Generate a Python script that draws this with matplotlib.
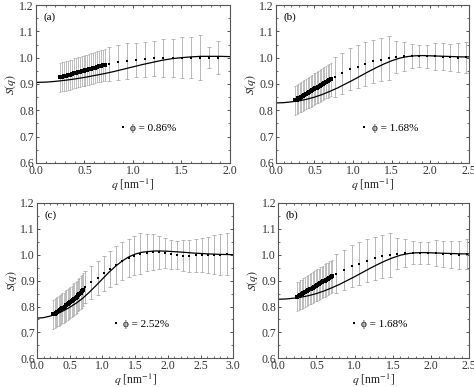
import numpy as np
import matplotlib
matplotlib.use("Agg")
import matplotlib.pyplot as plt
from matplotlib.ticker import MultipleLocator, FormatStrFormatter

plt.rcParams['font.family'] = ['Liberation Serif', 'DejaVu Serif']
plt.rcParams['mathtext.fontset'] = 'stix'

# dense low-q points (same q grid for every sample)
q_dense = [0.25, 0.27, 0.29, 0.31, 0.33, 0.35, 0.37, 0.39, 0.41, 0.43, 0.45, 0.47,
           0.49, 0.51, 0.53, 0.55, 0.57, 0.59, 0.61, 0.63, 0.65, 0.67, 0.69, 0.71]

# ---- phi = 0.86 %
a_dense = [0.925, 0.927, 0.929, 0.931, 0.933, 0.935, 0.937, 0.940, 0.942, 0.944, 0.946, 0.948,
           0.950, 0.952, 0.954, 0.956, 0.958, 0.960, 0.962, 0.965, 0.967, 0.969, 0.971, 0.973]
a_dense_err = [0.055, 0.055, 0.055, 0.056, 0.056, 0.056, 0.056, 0.057, 0.057, 0.057, 0.057, 0.057,
               0.058, 0.058, 0.058, 0.058, 0.058, 0.059, 0.059, 0.059, 0.059, 0.060, 0.060, 0.060]
a_q = [0.75, 0.844, 0.938, 1.032, 1.126, 1.22, 1.314, 1.408, 1.502, 1.596, 1.69, 1.784, 1.878]
a_s = [0.976, 0.982, 0.986, 0.991, 0.994, 0.997, 0.999, 1.000, 1.000, 1.000, 1.000, 1.000, 1.000]
a_err = [0.066, 0.065, 0.068, 0.064, 0.066, 0.068, 0.071, 0.072, 0.078, 0.078, 0.085, 0.040, 0.063]
a_fit_q = [0.0, 0.1, 0.2, 0.3, 0.4, 0.5, 0.6, 0.7, 0.8, 0.9, 1.0, 1.1, 1.2, 1.3, 1.4, 1.5,
           1.6, 1.7, 1.8, 1.9, 2.0]
a_fit_s = [0.906, 0.907, 0.910, 0.914, 0.919, 0.925, 0.932, 0.939, 0.947, 0.956, 0.965, 0.974,
           0.982, 0.990, 0.996, 1.000, 1.003, 1.005, 1.005, 1.005, 1.004]

# ---- phi = 1.68 %
b_dense = [0.838, 0.841, 0.845, 0.848, 0.852, 0.855, 0.859, 0.862, 0.866, 0.869, 0.873, 0.876,
           0.880, 0.883, 0.886, 0.890, 0.893, 0.897, 0.900, 0.904, 0.907, 0.911, 0.914, 0.918]
b_dense_err = [0.055, 0.055, 0.056, 0.056, 0.057, 0.057, 0.058, 0.058, 0.058, 0.059, 0.059, 0.059,
               0.060, 0.060, 0.060, 0.061, 0.061, 0.061, 0.062, 0.062, 0.062, 0.063, 0.063, 0.063]
b_q = [0.76, 0.86, 0.96, 1.06, 1.16, 1.26, 1.36, 1.46, 1.56, 1.66, 1.76, 1.86, 1.96,
       2.06, 2.16, 2.26, 2.36, 2.47]
b_s = [0.926, 0.940, 0.956, 0.965, 0.977, 0.986, 0.993, 0.999, 1.003, 1.006, 1.007, 1.006, 1.006,
       1.005, 1.003, 1.001, 1.000, 1.001]
b_err = [0.075, 0.077, 0.080, 0.082, 0.083, 0.082, 0.082, 0.085, 0.060, 0.055, 0.045, 0.043, 0.044,
         0.050, 0.051, 0.052, 0.054, 0.058]
b_fit_q = [0.0, 0.1, 0.2, 0.3, 0.4, 0.5, 0.6, 0.7, 0.8, 0.9, 1.0, 1.1, 1.2, 1.3, 1.4, 1.5,
           1.6, 1.7, 1.8, 1.9, 2.0, 2.1, 2.2, 2.3, 2.4, 2.5]
b_fit_s = [0.828, 0.829, 0.832, 0.836, 0.842, 0.850, 0.860, 0.872, 0.885, 0.900, 0.915, 0.931,
           0.947, 0.962, 0.976, 0.988, 0.998, 1.004, 1.007, 1.008, 1.007, 1.006, 1.005, 1.004,
           1.003, 1.003]

# ---- phi = 2.52 %
c_dense = [0.770, 0.773, 0.776, 0.779, 0.782, 0.786, 0.789, 0.793, 0.796, 0.800, 0.804, 0.808,
           0.812, 0.816, 0.820, 0.825, 0.829, 0.834, 0.838, 0.843, 0.848, 0.853, 0.859, 0.865]
c_dense_err = [0.055, 0.055, 0.056, 0.056, 0.057, 0.057, 0.058, 0.058, 0.058, 0.059, 0.059, 0.059,
               0.060, 0.060, 0.060, 0.061, 0.061, 0.061, 0.062, 0.062, 0.062, 0.063, 0.063, 0.063]
c_q = [0.74, 0.83, 0.93, 1.02, 1.11, 1.21, 1.30, 1.40, 1.49, 1.58, 1.68, 1.77, 1.86, 1.96,
       2.05, 2.14, 2.24, 2.33, 2.43, 2.52, 2.61, 2.71, 2.80, 2.90]
c_s = [0.875, 0.893, 0.910, 0.928, 0.945, 0.960, 0.975, 0.987, 0.996, 1.004, 1.008, 1.010, 1.009,
       1.007, 1.002, 0.998, 0.996, 0.996, 0.997, 0.998, 0.999, 1.000, 1.000, 1.002]
c_err = [0.062, 0.064, 0.066, 0.068, 0.070, 0.072, 0.074, 0.075, 0.076, 0.078, 0.073, 0.068,
         0.063, 0.057, 0.056, 0.054, 0.059, 0.062, 0.063, 0.066, 0.070, 0.075, 0.078, 0.080]
c_fit_q = [0.0, 0.1, 0.2, 0.3, 0.4, 0.5, 0.6, 0.7, 0.8, 0.9, 1.0, 1.1, 1.2, 1.3, 1.4, 1.5,
           1.6, 1.7, 1.8, 1.9, 2.0, 2.2, 2.4, 2.6, 2.8, 3.0]
c_fit_s = [0.755, 0.757, 0.763, 0.771, 0.783, 0.797, 0.813, 0.832, 0.855, 0.880, 0.906, 0.932,
           0.955, 0.975, 0.991, 1.002, 1.009, 1.012, 1.014, 1.014, 1.013, 1.010, 1.006, 1.003,
           1.001, 1.000]

panels = [
    ("(a)", "ϕ = 0.86%", a_dense, a_dense_err, a_q, a_s, a_err, a_fit_q, a_fit_s, 2.0,
     [0.076, 0.579, 0.409, 0.408], 0.58),
    ("(b)", "ϕ = 1.68%", b_dense, b_dense_err, b_q, b_s, b_err, b_fit_q, b_fit_s, 2.5,
     [0.582, 0.579, 0.407, 0.408], 0.59),
    ("(c)", "ϕ = 2.52%", c_dense, c_dense_err, c_q, c_s, c_err, c_fit_q, c_fit_s, 3.0,
     [0.078, 0.074, 0.414, 0.402], 0.53),
    ("(b)", "ϕ = 1.68%", b_dense, b_dense_err, b_q, b_s, b_err, b_fit_q, b_fit_s, 2.5,
     [0.587, 0.074, 0.403, 0.402], 0.53),
]

fig = plt.figure(figsize=(4.74, 3.87), dpi=100)
ebcol = '#a4a4a4'

for tag, lab, sd, sde, sq, ss, se, fq, fs, xmax, rect, legx in panels:
    ax = fig.add_axes(rect)
    ax.errorbar(q_dense, sd, yerr=sde, fmt='none', ecolor=ebcol, elinewidth=0.5,
                capsize=1.0, capthick=0.5)
    ax.errorbar(sq, ss, yerr=se, fmt='none', ecolor=ebcol, elinewidth=0.55,
                capsize=1.3, capthick=0.55)
    ax.plot(fq, fs, color='black', lw=0.9)
    ax.plot(q_dense, sd, 's', color='black', ms=2.4, mew=0)
    ax.plot(sq, ss, 's', color='black', ms=2.0, mew=0, label=lab)

    ax.set_xlim(0, xmax)
    ax.set_ylim(0.6, 1.2)
    ax.xaxis.set_major_locator(MultipleLocator(0.5))
    ax.xaxis.set_minor_locator(MultipleLocator(0.1))
    ax.yaxis.set_major_locator(MultipleLocator(0.1))
    ax.yaxis.set_minor_locator(MultipleLocator(0.05))
    ax.tick_params(which='both', direction='in', top=True, right=True,
                   labelsize=8.5, colors='#333333', pad=1.5)
    ax.tick_params(which='major', length=2.5, width=0.6)
    ax.tick_params(which='minor', length=1.3, width=0.5)
    ax.xaxis.set_major_formatter(FormatStrFormatter('%.1f'))
    ax.yaxis.set_major_formatter(FormatStrFormatter('%.1f'))
    for sp in ax.spines.values():
        sp.set_color('#555555')
        sp.set_linewidth(0.8)

    ax.set_xlabel(r'$q$ [nm$^{-1}$]', fontsize=8.5, labelpad=-0.5, color='#222222')
    ax.set_ylabel(r'$S(q)$', fontsize=8.5, labelpad=1, color='#222222')
    ax.text(0.04, 0.92, tag, transform=ax.transAxes, fontsize=8, va='center')
    ax.legend(loc='center', bbox_to_anchor=(legx, 0.22), frameon=False, fontsize=8,
              handlelength=0.5, handletextpad=0.4, borderaxespad=0, markerscale=1.0)

fig.savefig("out.png", dpi=100)
